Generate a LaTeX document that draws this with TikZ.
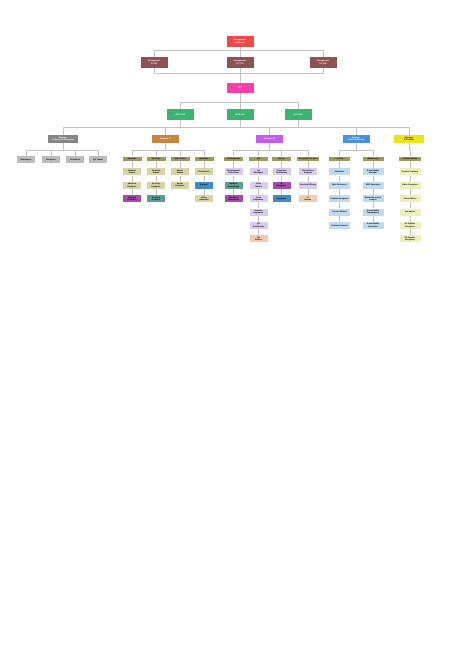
\documentclass[tikz,border=0pt]{standalone}
\usepackage{fontspec}
\setmainfont{Liberation Sans}

\definecolor{mdred}{HTML}{F04A4A}
\definecolor{vpbrown}{HTML}{8E5252}
\definecolor{ctopink}{HTML}{FF3DA8}
\definecolor{avtdgreen}{HTML}{3CB371}
\definecolor{mgrgray}{HTML}{858585}
\definecolor{mgrorange}{HTML}{C8843C}
\definecolor{mgrmagenta}{HTML}{C85AF0}
\definecolor{mgrblue}{HTML}{4A90E2}
\definecolor{mgryellow}{HTML}{EDE31C}
\definecolor{headolive}{HTML}{9C9A5C}
\definecolor{childtan}{HTML}{D8D4A8}
\definecolor{childlav}{HTML}{D9CCF0}
\definecolor{childteal}{HTML}{5E9C98}
\definecolor{childpurple}{HTML}{A34CA8}
\definecolor{childblue}{HTML}{3E8DC4}
\definecolor{childpeach}{HTML}{F1C9AE}
\definecolor{childsky}{HTML}{C0DAF0}
\definecolor{childcream}{HTML}{EEF0BC}
\definecolor{childgray}{HTML}{BDBDBD}
\definecolor{linegray}{HTML}{C4C4C4}

\newcommand{\chartfont}{\fontsize{2}{2.4}\selectfont\bfseries}

\begin{document}
\begin{tikzpicture}[x=1pt, y=-1pt, node distance=13.4pt, box/.style={rectangle, fill=#1, inner sep=0.4pt, align=center, font=\chartfont}, topbox/.style={box=#1, minimum width=27pt, minimum height=10.5pt, text=white}, mgrbox/.style={box=#1, minimum width=27pt, minimum height=7.5pt, text=white}, headbox/.style={box=headolive, minimum width=19pt, minimum height=4pt}, subbox/.style={box=#1, minimum width=18pt, minimum height=7pt}, link/.style={draw=linegray, line width=0.4pt}]

\useasboundingbox[fill=white] (0,0) rectangle (474,670);

% top levels
\node[topbox=mdred] (md) at (240,41.5) {Management\\MD Level};
\node[topbox=vpbrown] (vphr) at (154,62.5) {Management\\VP HR};
\node[topbox=vpbrown] (vpcto) at (240,62.5) {Management\\VP CTO};
\node[topbox=vpbrown] (vpbe) at (323,62.5) {Management\\V.P. B.E};
\node[topbox=ctopink] (cto) at (240,88) {CTO};
\node[topbox=avtdgreen] (avtdhvs) at (180.5,114.5) {AVTD HVS};
\node[topbox=avtdgreen] (avtdhve) at (240,114.5) {AVTD HVE};
\node[topbox=avtdgreen] (avtdbe) at (298,114.5) {AVTD B/E};

% managers
\node[mgrbox=mgrgray, minimum width=30pt] (mgrsoft) at (63,139) {Manager\\Software Development};
\node[mgrbox=mgrorange] (mgrit) at (165.5,139) {Manager IT};
\node[mgrbox=mgrmagenta] (mgrdt) at (269.5,139) {Manager DT};
\node[mgrbox=mgrblue] (mgrdm) at (356,139) {Manager\\Digital Marketing};
\node[mgrbox=mgryellow, text=black, minimum width=30pt] (mgrec) at (409,139) {Manager\\E-Content};

% software development
\node[subbox=childgray] (devs) at (26,159.5) {Developers};
\node[subbox=childgray] (designers) at (51,159.5) {Designers};
\node[subbox=childgray] (architects) at (75,159.5) {Architects};
\node[subbox=childgray] (qateams) at (98,159.5) {QA Teams};

% manager IT
\node[headbox] (network) at (132,158.5) {Network};
\node[subbox=childtan, below of=network] (netadmin) {Network\\Admin};
\node[subbox=childtan, below of=netadmin] (neteng) {Network\\Engineer};
\node[subbox=childpurple, below of=neteng] (netarch) {Network\\Architect};
\node[headbox] (security) at (156,158.5) {Security};
\node[subbox=childtan, below of=security] (secadmin) {Security\\Admin};
\node[subbox=childtan, below of=secadmin] (seceng) {Security\\Engineer};
\node[subbox=childteal, below of=seceng] (secarch) {Security\\Architect};
\node[headbox] (datacenter) at (180,158.5) {Data Center};
\node[subbox=childtan, below of=datacenter] (srvadmin) {Server\\Admin};
\node[subbox=childtan, below of=srvadmin] (srveng) {Server\\Engineer};
\node[headbox] (helpdesk) at (204,158.5) {Helpdesk};
\node[subbox=childtan, below of=helpdesk] (technicians) {Technicians};
\node[subbox=childblue, below of=technicians] (support) {Support};
\node[subbox=childtan, below of=support] (officeassist) {Office\\Assistant};

% manager DT
\node[headbox] (development) at (233.5,158.5) {Development};
\node[subbox=childlav, below of=development] (devtech) {Development\\Technicians};
\node[subbox=childteal, below of=devtech] (nettech) {Network\\Technicians};
\node[subbox=childpurple, below of=nettech] (dbtech) {Database\\Technicians};
\node[headbox] (qa) at (258.5,158.5) {QA};
\node[subbox=childlav, below of=qa] (qamgr) {QA\\Managers};
\node[subbox=childlav, below of=qamgr] (codetest) {Code\\Testers};
\node[subbox=childlav, below of=codetest] (codeeng) {Code\\Engineers};
\node[subbox=childlav, below of=codeeng] (seceng2) {Security\\Engineers};
\node[subbox=childlav, below of=seceng2] (qatech) {QA\\Technicians};
\node[subbox=childpeach, below of=qatech] (qaintern) {QA\\Interns};
\node[headbox] (design) at (281.5,158.5) {Design};
\node[subbox=childlav, below of=design] (teltech) {Telephone\\Technicians};
\node[subbox=childpurple, below of=teltech] (uidesign) {UI\\Designers};
\node[subbox=childblue, below of=uidesign] (designers2) {Designers};
\node[headbox, minimum width=22pt] (seccontrol) at (308,158.5) {Security \& Control};
\node[subbox=childlav, below of=seccontrol] (survanalyst) {Surveillance\\Analysts};
\node[subbox=childlav, below of=survanalyst] (secofficer) {Security Officers};
\node[subbox=childpeach, below of=secofficer] (itintern) {IT\\Interns};

% digital marketing
\node[headbox, minimum width=21pt] (content) at (339.5,158.5) {Content};
\node[subbox=childsky, minimum width=21pt, below of=content] (marketers) {Marketers};
\node[subbox=childsky, minimum width=21pt, below of=marketers] (webdesign) {Web Designers};
\node[subbox=childsky, minimum width=21pt, below of=webdesign] (graphdesign) {Graphic Designers};
\node[subbox=childsky, minimum width=21pt, below of=graphdesign] (contwriter) {Content Writers};
\node[subbox=childsky, minimum width=21pt, below of=contwriter] (contcurator) {Content Curators};
\node[headbox, minimum width=21pt] (advertising) at (373,158.5) {Advertising};
\node[subbox=childsky, minimum width=21pt, below of=advertising] (smmanager) {Social Media\\Manager};
\node[subbox=childsky, minimum width=21pt, below of=smmanager] (seospec) {SEO Specialist};
\node[subbox=childsky, minimum width=21pt, below of=seospec] (marketres) {Market Research\\Analyst};
\node[subbox=childsky, minimum width=21pt, below of=marketres] (smcampaign) {Social Media\\Campaigners};
\node[subbox=childsky, minimum width=21pt, below of=smcampaign] (smspec) {Social Media\\Specialist};

% e-content
\node[headbox, minimum width=22pt] (ecwriters) at (410,158.5) {Content Writers};
\node[subbox=childcream, minimum width=21pt, below of=ecwriters] (contcreator) {Content Creators};
\node[subbox=childcream, minimum width=21pt, below of=contcreator] (videodesign) {Video Designers};
\node[subbox=childcream, minimum width=21pt, below of=videodesign] (videoedit) {Video Editors};
\node[subbox=childcream, minimum width=21pt, below of=videoedit] (animators) {Animators};
\node[subbox=childcream, minimum width=21pt, below of=animators] (twodgraph) {2D Graphic\\Designers};
\node[subbox=childcream, minimum width=21pt, below of=twodgraph] (threedgraph) {3D Graphic\\Designers};

% tree lines
\draw[link] (md.south) -- ++(0,3) -| (vphr.north);
\draw[link] (md.south) -- (vpcto.north);
\draw[link] (md.south) -- ++(0,3) -| (vpbe.north);
\draw[link] (vphr.south) -- ++(0,5) -| (cto.north);
\draw[link] (vpcto.south) -- (cto.north);
\draw[link] (vpbe.south) -- ++(0,5) -| (cto.north);
\draw[link] (cto.south) -- ++(0,9) -| (avtdhvs.north);
\draw[link] (cto.south) -- (avtdhve.north);
\draw[link] (cto.south) -- ++(0,9) -| (avtdbe.north);
\draw[link] (avtdhvs.south) -- ++(0,7);
\draw[link] (avtdbe.south) -- ++(0,7);
\draw[link] (avtdhve.south) -- ++(0,7) -| (mgrsoft.north);
\draw[link] (avtdhve.south) -- ++(0,7) -| (mgrit.north);
\draw[link] (avtdhve.south) -- ++(0,7) -| (mgrdt.north);
\draw[link] (avtdhve.south) -- ++(0,7) -| (mgrdm.north);
\draw[link] (avtdhve.south) -- ++(0,7) -| (mgrec.north);

\draw[link] (mgrsoft.south) -- ++(0,7) -| (devs.north);
\draw[link] (mgrsoft.south) -- ++(0,7) -| (designers.north);
\draw[link] (mgrsoft.south) -- ++(0,7) -| (architects.north);
\draw[link] (mgrsoft.south) -- ++(0,7) -| (qateams.north);
\draw[link] (mgrit.south) -- ++(0,7) -| (network.north);
\draw[link] (mgrit.south) -- ++(0,7) -| (security.north);
\draw[link] (mgrit.south) -- ++(0,7) -| (datacenter.north);
\draw[link] (mgrit.south) -- ++(0,7) -| (helpdesk.north);
\draw[link] (mgrdt.south) -- ++(0,7) -| (development.north);
\draw[link] (mgrdt.south) -- ++(0,7) -| (qa.north);
\draw[link] (mgrdt.south) -- ++(0,7) -| (design.north);
\draw[link] (mgrdt.south) -- ++(0,7) -| (seccontrol.north);
\draw[link] (mgrdm.south) -- ++(0,7) -| (content.north);
\draw[link] (mgrdm.south) -- ++(0,7) -| (advertising.north);
\draw[link] (mgrec.south) -- ++(0,7) -| (ecwriters.north);

% columns
\draw[link] (network) -- (netadmin) -- (neteng) -- (netarch);
\draw[link] (security) -- (secadmin) -- (seceng) -- (secarch);
\draw[link] (datacenter) -- (srvadmin) -- (srveng);
\draw[link] (helpdesk) -- (technicians) -- (support) -- (officeassist);
\draw[link] (development) -- (devtech) -- (nettech) -- (dbtech);
\draw[link] (qa) -- (qamgr) -- (codetest) -- (codeeng) -- (seceng2) -- (qatech) -- (qaintern);
\draw[link] (design) -- (teltech) -- (uidesign) -- (designers2);
\draw[link] (seccontrol) -- (survanalyst) -- (secofficer) -- (itintern);
\draw[link] (content) -- (marketers) -- (webdesign) -- (graphdesign) -- (contwriter) -- (contcurator);
\draw[link] (advertising) -- (smmanager) -- (seospec) -- (marketres) -- (smcampaign) -- (smspec);
\draw[link] (ecwriters) -- (contcreator) -- (videodesign) -- (videoedit) -- (animators) -- (twodgraph) -- (threedgraph);

\end{tikzpicture}
\end{document}
